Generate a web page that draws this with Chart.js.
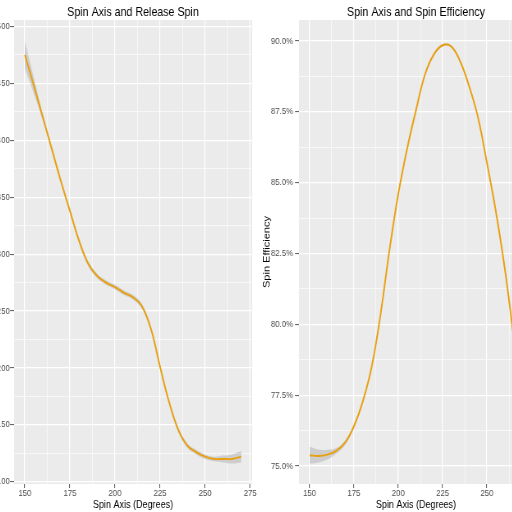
<!DOCTYPE html>
<html><head><meta charset="utf-8">
<script src="https://cdn.jsdelivr.net/npm/chart.js@4"></script>
<style>
html,body{margin:0;padding:0;width:512px;height:512px;overflow:hidden;background:#fff;}
.wrap{position:absolute;top:0;width:380px;height:512px;transform-origin:0 0;transform:scaleX(0.82);}
#w1{left:-40px}
#w2{left:240px}
canvas{display:block}
</style></head><body>
<div class="wrap" id="w1"><canvas id="c1" width="380" height="512"></canvas></div>
<div class="wrap" id="w2"><canvas id="c2" width="380" height="512"></canvas></div>
<script>
// ---- data ----
const spinAxis    = [150,155,160,165,170,175,180,185,190,195,200,205,210,215,220,225,230,235,240,245,250,255,260,265,270];
const releaseSpin = [2475,2448,2420,2392,2364,2338,2312,2292,2281,2275,2271,2266,2262,2254,2234,2201,2170,2146,2132,2126,2122,2120,2120,2120,2122];
const releaseHigh = [2487,2455,2423,2394,2366,2340,2314,2294,2283,2277,2273,2268,2264,2256,2236,2203,2172,2148,2134,2128,2124,2122,2123,2124,2127];
const releaseLow  = [2463,2441,2417,2390,2362,2336,2310,2290,2279,2273,2269,2264,2260,2252,2232,2199,2168,2144,2130,2124,2120,2118,2117,2116,2117];
const spinEff     = [75.38,75.35,75.40,75.53,75.82,76.40,77.28,78.50,80.35,82.60,84.60,86.20,87.56,88.80,89.52,89.85,89.80,89.27,88.40,87.30,85.70,84.00,82.00,79.60,77.00];
const effHigh     = [75.68,75.58,75.57,75.63,75.90,76.46,77.33,78.55,80.40,82.65,84.65,86.25,87.61,88.85,89.57,89.90,89.85,89.32,88.45,87.35,85.76,84.07,82.10,79.75,77.20];
const effLow      = [75.08,75.12,75.23,75.43,75.74,76.34,77.23,78.45,80.30,82.55,84.55,86.15,87.51,88.75,89.47,89.80,89.75,89.22,88.35,87.25,85.64,83.93,81.90,79.45,76.80];

const xTicks    = [150,162.5,175,187.5,200,212.5,225,237.5,250,262.5,275];
const xMajor    = [150,175,200,225,250,275];
const spinTicks = [2100,2125,2150,2175,2200,2225,2250,2275,2300,2325,2350,2375,2400,2425,2450,2475,2500];
const spinMajor = [2100,2150,2200,2250,2300,2350,2400,2450,2500];
const effTicks  = [75,76.25,77.5,78.75,80,81.25,82.5,83.75,85,86.25,87.5,88.75,90];
const effMajor  = [75,77.5,80,82.5,85,87.5,90];

// ---- style ----
const ORANGE = '#E9A010';
const FONT = "'Liberation Sans', Arial, sans-serif";
const panelBg = {id:'panelBg', beforeDraw(chart){
  const {ctx, chartArea:a} = chart; ctx.save(); ctx.fillStyle = '#EBEBEB';
  ctx.fillRect(a.left, a.top, a.right-a.left, a.bottom-a.top); ctx.restore();
}};
const pts = (xs, ys) => xs.map((x,i)=>({x, y: ys[i]}));

function gridOpts(major){
  return {
    color: c => 'rgba(255,255,255,1)',
    lineWidth: c => (c.tick && major.includes(c.tick.value)) ? 1.2 : 0.6,
    tickColor: c => (c.tick && major.includes(c.tick.value)) ? '#555555' : 'rgba(0,0,0,0)',
    tickWidth: 1
  };
}

function makeChart(id, cfg){
  return new Chart(document.getElementById(id), {
    type: 'line',
    data: { datasets: [
      {data: pts(spinAxis, cfg.low), order:3, borderWidth:0, pointRadius:0, fill:false, tension:0.4},
      {data: pts(spinAxis, cfg.high), order:2, borderWidth:0, pointRadius:0, fill:'-1', backgroundColor:'rgba(160,160,160,0.4)', tension:0.4},
      {data: pts(spinAxis, cfg.vals), order:1, borderColor: ORANGE, borderWidth: 1.9, pointRadius:0, fill:false, tension:0.4}
    ]},
    options: {
      responsive: false, animation: false,
      layout: {padding: {left:0, right: cfg.padRight, top:0, bottom:0}},
      plugins: {
        legend: {display:false}, tooltip: {enabled:false},
        title: {display:true, text: cfg.title, fullSize:false, color:'#000000',
          font:{family:FONT, size:13, weight:'normal', lineHeight:1.2}, padding:{top:4.2, bottom:0.2}}
      },
      scales: {
        x: {
          type:'linear', min:144, max:276,
          afterBuildTicks: s => { s.ticks = xTicks.map(v=>({value:v})); },
          afterFit: s => { s.height = 28; },
          grid: Object.assign(gridOpts(xMajor), {tickLength:4}),
          border: {display:false},
          ticks: {autoSkip:false, maxRotation:0, padding:0, color:'#4D4D4D',
            font:{family:FONT, size:9.5},
            callback: v => xMajor.includes(v) ? String(v) : ''},
          title: {display:true, text:'Spin Axis (Degrees)', color:'#000000',
            font:{family:FONT, size:11, lineHeight:1.2}, padding:{top:0.4, bottom:0}}
        },
        y: {
          type:'linear', min: cfg.ymin, max: cfg.ymax,
          afterBuildTicks: s => { s.ticks = cfg.yTicks.map(v=>({value:v})); },
          afterFit: s => { s.width = cfg.yWidth; },
          grid: Object.assign(gridOpts(cfg.yMajor), {tickLength:4.8}),
          border: {display:false},
          ticks: {autoSkip:false, padding: cfg.yPad, color:'#4D4D4D',
            font:{family:FONT, size:9.5},
            callback: v => cfg.yMajor.includes(v) ? cfg.fmt(v) : ''},
          title: {display: !!cfg.yTitle, text: cfg.yTitle || '', color:'#000000',
            font:{family:FONT, size:11, lineHeight:1.2}, padding:{top: cfg.yTitlePad || 0, bottom:0}}
        }
      }
    },
    plugins: [panelBg]
  });
}

makeChart('c1', {
  title: 'Spin Axis and Release Spin',
  vals: releaseSpin, low: releaseLow, high: releaseHigh,
  ymin: 2098, ymax: 2505.7, yTicks: spinTicks, yMajor: spinMajor,
  fmt: v => String(v), yWidth: 65.9, yPad: 0.4, padRight: 23.9
});
makeChart('c2', {
  title: 'Spin Axis and Spin Efficiency',
  vals: spinEff, low: effLow, high: effHigh,
  ymin: 74.363, ymax: 90.741, yTicks: effTicks, yMajor: effMajor,
  fmt: v => v.toFixed(1) + '%', yWidth: 71.95, yPad: 2.5, padRight: 22.7,
  yTitle: 'Spin Efficiency', yTitlePad: 26.3
});
</script>
</body></html>
